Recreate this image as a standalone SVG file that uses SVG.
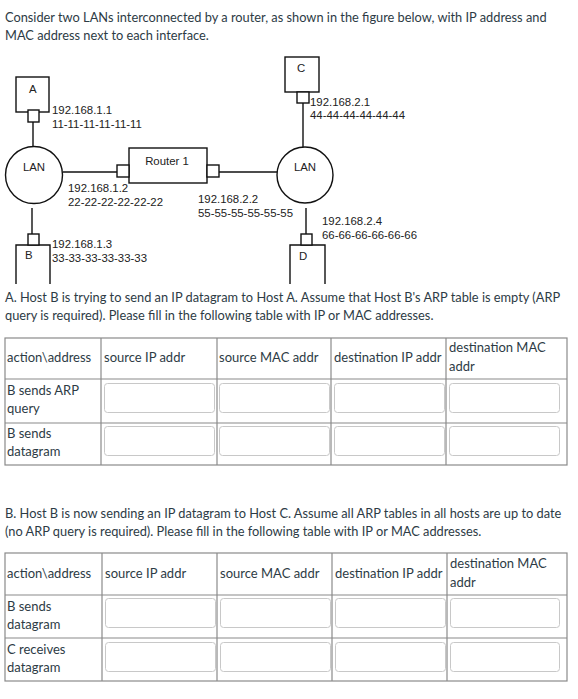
<svg xmlns="http://www.w3.org/2000/svg" width="578" height="699" viewBox="0 0 578 699">
<style>
.body{font-family:Lato,"Liberation Sans",sans-serif;font-size:13px;fill:#2d3b45}
.para{font-family:Lato,"Liberation Sans",sans-serif;font-size:12.8px;fill:#2d3b45}
.fig{font-family:"Liberation Sans",Arial,sans-serif;font-size:11.4px;fill:#222}
.ln{stroke:#111;stroke-width:1.4;fill:none}
.box{stroke:#111;stroke-width:1.4;fill:#fff}
.tb{stroke:#8a8a8a;stroke-width:1.2;fill:none}
.inp{stroke:#c8c8c8;stroke-width:1;fill:#fff}
</style>
<rect width="578" height="699" fill="#fff"/>
<text class="para" x="5" y="22">Consider two LANs interconnected by a router, as shown in the figure below, with IP address and</text>
<text class="para" x="5" y="40">MAC address next to each interface.</text>

<g id="connectors">
<line class="ln" x1="33" y1="122" x2="33" y2="147"/>
<line class="ln" x1="63" y1="172" x2="117" y2="172"/>
<line class="ln" x1="219" y1="172" x2="277" y2="172"/>
<line class="ln" x1="303" y1="103" x2="303" y2="147"/>
<line class="ln" x1="32" y1="208" x2="32" y2="234"/>
<line class="ln" x1="306" y1="208" x2="306" y2="234"/>
</g>

<g id="hostA">
<rect class="box" x="16" y="77" width="33" height="35"/>
<text class="fig" x="29" y="93">A</text>
<rect class="box" x="28" y="110" width="11" height="12"/>
<text class="fig" x="52" y="114">192.168.1.1</text>
<text class="fig" x="52" y="128">11-11-11-11-11-11</text>
</g>

<g id="lan1">
<circle class="box" cx="34" cy="175" r="28.5"/>
<text class="fig" x="34" y="171" text-anchor="middle">LAN</text>
</g>

<g id="router1">
<rect class="box" x="129" y="148" width="78" height="35"/>
<text class="fig" x="167" y="165" text-anchor="middle">Router 1</text>
<rect class="box" x="117" y="165" width="12" height="12"/>
<rect class="box" x="207" y="165" width="12" height="12"/>
<text class="fig" x="68" y="192">192.168.1.2</text>
<text class="fig" x="68" y="206">22-22-22-22-22-22</text>
<text class="fig" x="198" y="203">192.168.2.2</text>
<text class="fig" x="198" y="217">55-55-55-55-55-55</text>
</g>

<g id="hostC">
<rect class="box" x="285" y="57" width="34" height="35"/>
<text class="fig" x="297" y="72">C</text>
<rect class="box" x="297" y="92" width="12" height="11"/>
<text class="fig" x="310" y="106">192.168.2.1</text>
<text class="fig" x="310" y="119">44-44-44-44-44-44</text>
</g>

<g id="lan2">
<circle class="box" cx="305" cy="175" r="28"/>
<text class="fig" x="305" y="171" text-anchor="middle">LAN</text>
</g>

<g id="hostB">
<path class="box" d="M16,284 V245 H50 V284"/>
<text class="fig" x="25" y="259">B</text>
<rect class="box" x="28" y="234" width="11" height="11"/>
<text class="fig" x="52" y="248">192.168.1.3</text>
<text class="fig" x="52" y="262">33-33-33-33-33-33</text>
</g>

<g id="hostD">
<path class="box" d="M290,284 V245 H325 V284"/>
<text class="fig" x="299" y="260">D</text>
<rect class="box" x="301" y="234" width="11" height="11"/>
<text class="fig" x="322" y="225">192.168.2.4</text>
<text class="fig" x="322" y="239">66-66-66-66-66-66</text>
</g>

<rect x="0" y="285" width="578" height="414" fill="#fff"/>

<text class="para" x="5" y="302">A. Host B is trying to send an IP datagram to Host A. Assume that Host B's ARP table is empty (ARP</text>
<text class="para" x="5" y="320">query is required). Please fill in the following table with IP or MAC addresses.</text>

<g id="tableA">
<rect class="tb" x="5" y="338" width="562" height="127"/>
<line class="tb" x1="101" y1="338" x2="101" y2="465"/>
<line class="tb" x1="217" y1="338" x2="217" y2="465"/>
<line class="tb" x1="331" y1="338" x2="331" y2="465"/>
<line class="tb" x1="446" y1="338" x2="446" y2="465"/>
<line class="tb" x1="5" y1="379" x2="567" y2="379"/>
<line class="tb" x1="5" y1="423" x2="567" y2="423"/>
<text class="body" x="7" y="362">action\address</text>
<text class="body" x="104" y="362">source IP addr</text>
<text class="body" x="219" y="362">source MAC addr</text>
<text class="body" x="334" y="362">destination IP addr</text>
<text class="body" x="449" y="352">destination MAC</text>
<text class="body" x="449" y="371">addr</text>
<text class="body" x="7" y="395">B sends ARP</text>
<text class="body" x="7" y="413">query</text>
<text class="body" x="7" y="438">B sends</text>
<text class="body" x="7" y="456">datagram</text>
<rect class="inp" x="104.5" y="383.5" width="110" height="29" rx="3"/>
<rect class="inp" x="219.5" y="383.5" width="110" height="29" rx="3"/>
<rect class="inp" x="334.5" y="383.5" width="110" height="29" rx="3"/>
<rect class="inp" x="449.5" y="383.5" width="110" height="29" rx="3"/>
<rect class="inp" x="104.5" y="426.5" width="110" height="29" rx="3"/>
<rect class="inp" x="219.5" y="426.5" width="110" height="29" rx="3"/>
<rect class="inp" x="334.5" y="426.5" width="110" height="29" rx="3"/>
<rect class="inp" x="449.5" y="426.5" width="110" height="29" rx="3"/>
</g>

<text class="para" x="5" y="518">B. Host B is now sending an IP datagram to Host C. Assume all ARP tables in all hosts are up to date</text>
<text class="para" x="5" y="536">(no ARP query is required). Please fill in the following table with IP or MAC addresses.</text>

<g id="tableB">
<rect class="tb" x="5" y="553" width="562" height="128"/>
<line class="tb" x1="102" y1="553" x2="102" y2="681"/>
<line class="tb" x1="217" y1="553" x2="217" y2="681"/>
<line class="tb" x1="332" y1="553" x2="332" y2="681"/>
<line class="tb" x1="447" y1="553" x2="447" y2="681"/>
<line class="tb" x1="5" y1="595" x2="567" y2="595"/>
<line class="tb" x1="5" y1="638" x2="567" y2="638"/>
<text class="body" x="7" y="578">action\address</text>
<text class="body" x="105" y="578">source IP addr</text>
<text class="body" x="220" y="578">source MAC addr</text>
<text class="body" x="335" y="578">destination IP addr</text>
<text class="body" x="450" y="568">destination MAC</text>
<text class="body" x="450" y="587">addr</text>
<text class="body" x="7" y="611">B sends</text>
<text class="body" x="7" y="629">datagram</text>
<text class="body" x="7" y="654">C receives</text>
<text class="body" x="7" y="672">datagram</text>
<rect class="inp" x="105.5" y="598.5" width="110" height="29" rx="3"/>
<rect class="inp" x="220.5" y="598.5" width="110" height="29" rx="3"/>
<rect class="inp" x="335.5" y="598.5" width="110" height="29" rx="3"/>
<rect class="inp" x="450.5" y="598.5" width="109" height="29" rx="3"/>
<rect class="inp" x="105.5" y="642.5" width="110" height="29" rx="3"/>
<rect class="inp" x="220.5" y="642.5" width="110" height="29" rx="3"/>
<rect class="inp" x="335.5" y="642.5" width="110" height="29" rx="3"/>
<rect class="inp" x="450.5" y="642.5" width="109" height="29" rx="3"/>
</g>
</svg>
